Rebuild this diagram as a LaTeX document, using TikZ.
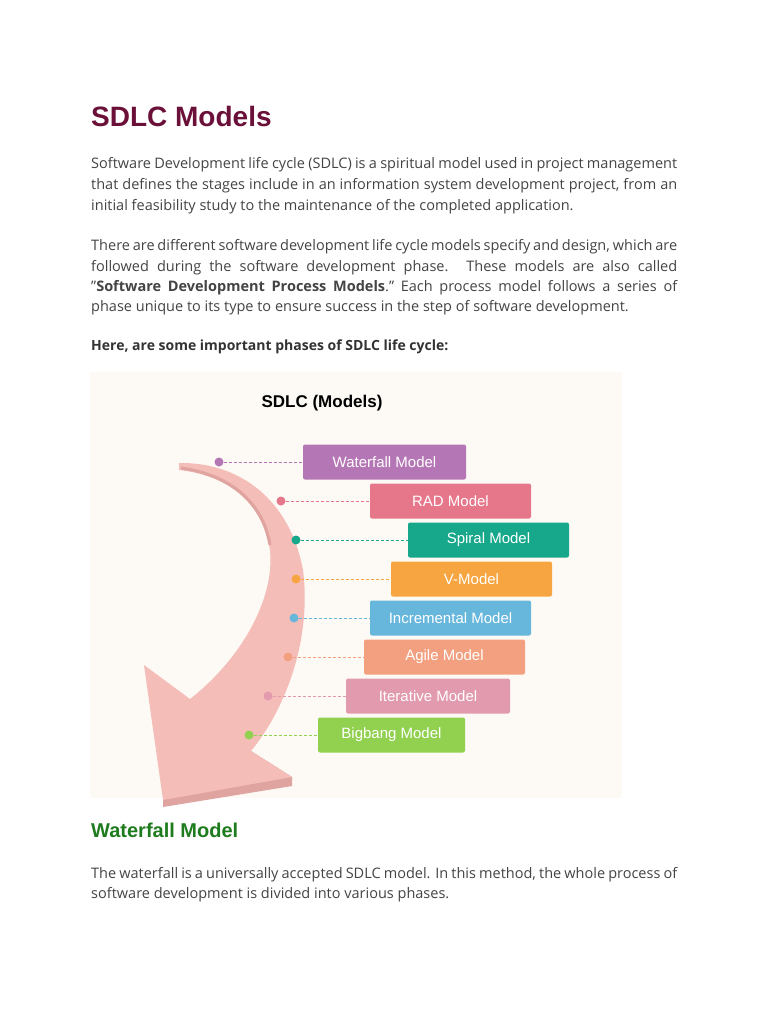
\documentclass[tikz,border=0pt]{standalone}
\usepackage{fontspec}
\setmainfont{Open Sans}
\newfontfamily\arial{Liberation Sans}
\definecolor{bodyc}{HTML}{444444}
\definecolor{maroon}{HTML}{6B1038}
\definecolor{wgreen}{HTML}{1E7B1E}
\definecolor{bgc}{HTML}{FDFAF5}
\definecolor{arrc}{HTML}{F4BDB8}
\definecolor{arrd}{HTML}{DFA3A0}
\definecolor{cwat}{HTML}{B576B5}
\definecolor{crad}{HTML}{E6778B}
\definecolor{cspi}{HTML}{17A88B}
\definecolor{cv}{HTML}{F7A541}
\definecolor{cinc}{HTML}{67B7DC}
\definecolor{cagi}{HTML}{F2A080}
\definecolor{cite}{HTML}{E29AAF}
\definecolor{cbig}{HTML}{92D050}
\newcommand{\jl}[1]{\hbox to 586pt{#1}}
\tikzset{
 bl/.style={anchor=base west,inner sep=0pt,font=\fontsize{14.5}{17}\selectfont,text=bodyc},
 mbox/.style={rounded corners=2pt,minimum height=35pt,inner sep=0pt,text=white,font=\arial\fontsize{15}{17}\selectfont},
 dotc/.style={circle,inner sep=0pt,minimum size=9pt},
 lk/.style={densely dashed,line width=0.6pt}
}
\begin{document}
\begin{tikzpicture}[x=1pt,y=-1pt]
\useasboundingbox (0,0) rectangle (768,1024);
\fill[white] (0,0) rectangle (768,1024);
\node[anchor=base west,inner sep=0pt,text=maroon,font=\arial\bfseries\fontsize{28}{30}\selectfont] (t1) at (91,127) {SDLC Models};
\node[bl] (p1) at (91,169) {\jl{Software Development life cycle (SDLC) is a spiritual model used in project management}};
\node[bl] (p2) at (91,190) {\jl{that defines the stages include in an information system development project, from an}};
\node[bl] (p3) at (91,211) {initial feasibility study to the maintenance of the completed application.};
\node[bl] (q1) at (91,251) {\jl{There are different software development life cycle models specify and design, which are}};
\node[bl] (q2) at (91,271) {\jl{followed during the software development phase. These models are also called}};
\node[bl] (q3) at (91,291) {\jl{"\textbf{Software Development Process Models}." Each process model follows a series of}};
\node[bl] (q4) at (91,311) {phase unique to its type to ensure success in the step of software development.};
\node[bl,font=\bfseries\fontsize{14}{17}\selectfont,text=black!80] (h) at (91,350) {Here, are some important phases of SDLC life cycle:};
% diagram
\fill[bgc] (90,372) rectangle (622,798);
\node[font=\arial\bfseries\fontsize{17}{19}\selectfont] (dt) at (322,403) {SDLC (Models)};
% arrow
\fill[arrd] (251,751) -- (292,777) -- (292,786) -- (163,807) -- (163,800) -- cycle;
\fill[arrc] (179,463) .. controls (240,462) and (290,500) .. (303,570)
 .. controls (312,640) and (285,710) .. (251,751) -- (292,777) -- (163,800) -- (144,665) -- (190,699)
 .. controls (240,660) and (275,600) .. (270,550)
 .. controls (262,500) and (225,475) .. (179,470) -- cycle;
\draw[arrd,line width=3pt] (181,468) .. controls (225,474) and (262,498) .. (270,545);
\foreach \n/\c/\xa/\xb/\y/\dx/\txt in {
 wat/cwat/303/466/462/219/Waterfall Model,
 rad/crad/370/531/501/281/RAD Model,
 spi/cspi/408/569/540/296/Spiral Model,
 vm/cv/391/552/579/296/V-Model,
 inc/cinc/370/531/618/294/Incremental Model,
 agi/cagi/364/525/657/288/Agile Model,
 ite/cite/346/510/696/268/Iterative Model,
 big/cbig/318/465/735/249/Bigbang Model}{
 \node[mbox,fill=\c,minimum width={\xb-\xa}] (b\n) at ({(\xa+\xb)/2},\y) {\txt};
 \node[dotc,fill=\c] (d\n) at (\dx,\y) {};
 \draw[lk,\c] (d\n) -- (b\n.west);
}
\node[anchor=base west,inner sep=0pt,text=wgreen,font=\arial\bfseries\fontsize{20}{22}\selectfont] (t2) at (91,837) {Waterfall Model};
\node[bl] (r1) at (91,878) {\jl{The waterfall is a universally accepted SDLC model. In this method, the whole process of}};
\node[bl] (r2) at (91,898) {software development is divided into various phases.};
\end{tikzpicture}
\end{document}
